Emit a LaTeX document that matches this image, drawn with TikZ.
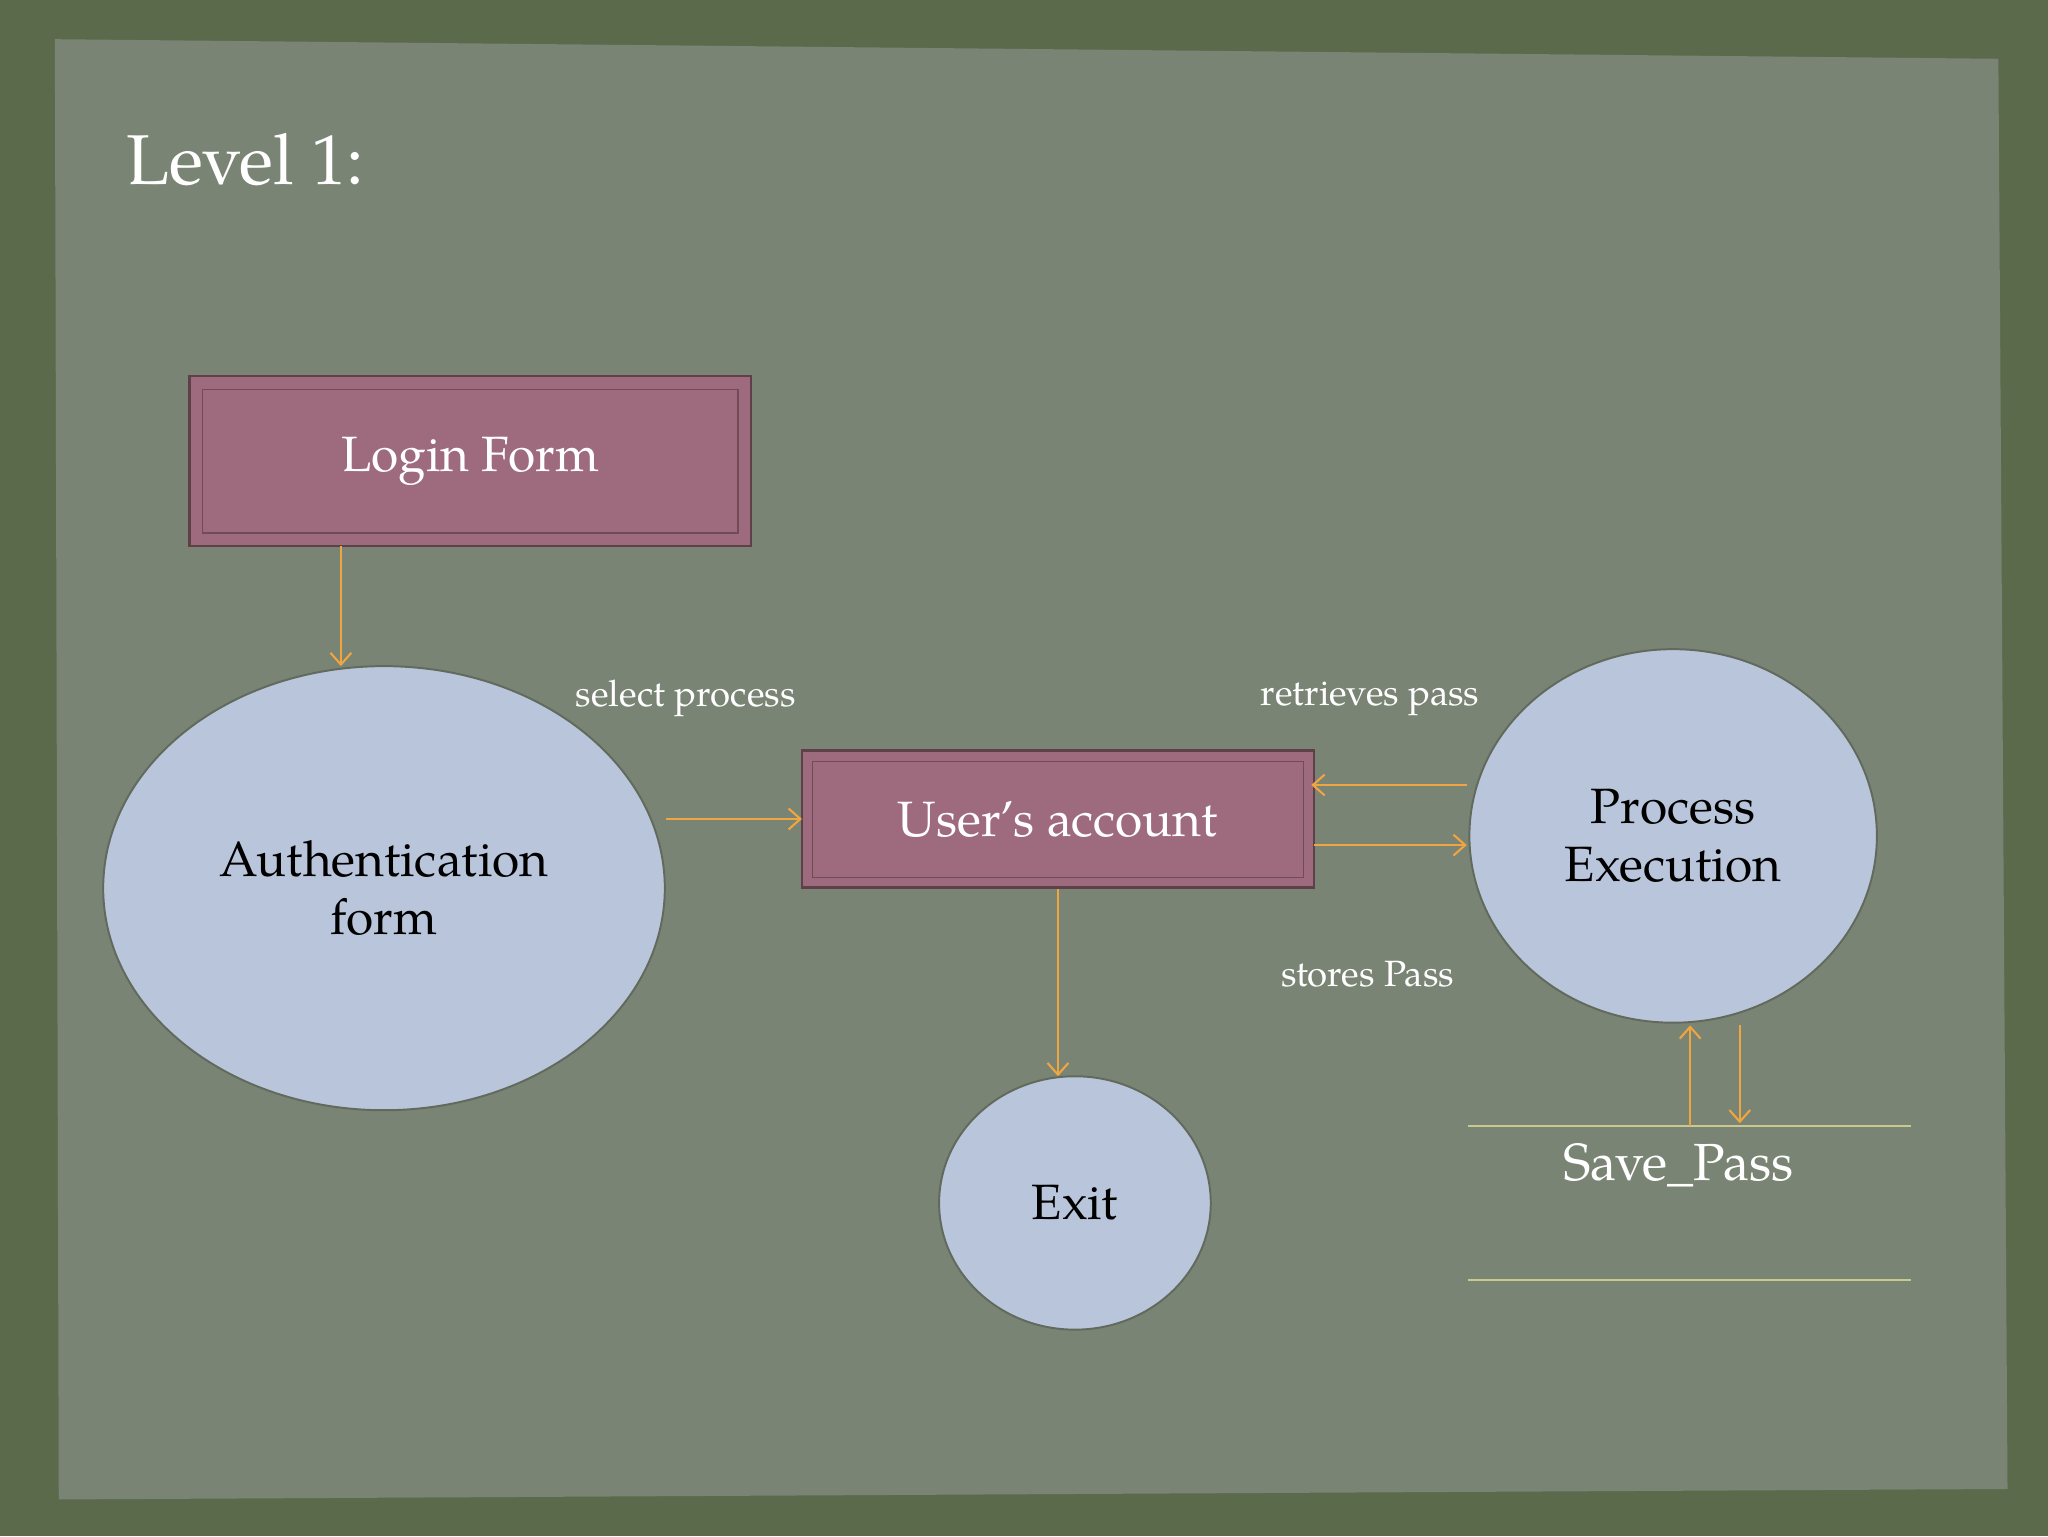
\documentclass[tikz,border=0pt]{standalone}
\usepackage{fontspec}
\setmainfont{TeX Gyre Pagella}
\usetikzlibrary{shapes.geometric,arrows.meta}
\definecolor{outer}{HTML}{5C6A4C}
\definecolor{paper}{HTML}{7A8474}
\definecolor{pinkbox}{HTML}{9E6A7E}
\definecolor{pinkedge}{HTML}{5E4048}
\definecolor{blueell}{HTML}{B9C5DA}
\definecolor{arr}{HTML}{EFA540}
\definecolor{sline}{HTML}{C8C890}
\tikzset{
 box/.style={draw=pinkedge,line width=2pt,fill=pinkbox,text=white,inner sep=0pt,font=\fontsize{38}{42}\selectfont},
 ell/.style={ellipse,draw=paper!80!black,line width=1.5pt,fill=blueell,inner sep=0pt,align=center,text=black,font=\fontsize{38}{44}\selectfont},
 lbl/.style={text=white,font=\fontsize{28}{32}\selectfont},
 flow/.style={draw=arr,line width=1.6pt,-{Straight Barb[length=9pt,width=16pt]}}
}
\begin{document}
\begin{tikzpicture}[x=1pt,y=-1pt]
\useasboundingbox (0,0) rectangle (1568,1176);
\fill[outer] (0,0) rectangle (1568,1176);
\fill[paper] (42,30) -- (1530,45) -- (1537,1140) -- (45,1148) -- cycle;
\node[anchor=west,text=white,font=\fontsize{54}{60}\selectfont] (title) at (93,122) {Level 1:};
\node[box,minimum width=430pt,minimum height=130pt] (login) at (360,353) {Login Form};
\draw[pinkedge!70!pinkbox,line width=1pt] (155,298) rectangle (565,408);
\node[ell,minimum width=430pt,minimum height=340pt] (auth) at (294,680) {Authentication\\form};
\node[box,minimum width=392pt,minimum height=105pt] (acct) at (810,627) {User’s account};
\draw[pinkedge!70!pinkbox,line width=1pt] (622,583) rectangle (998,672);
\node[ell,minimum width=312pt,minimum height=286pt] (proc) at (1281,640) {Process\\Execution};
\node[ell,minimum width=208pt,minimum height=194pt] (exit) at (823,921) {Exit};
\coordinate (s1) at (1124,862); \coordinate (s2) at (1463,862);
\coordinate (s3) at (1124,980); \coordinate (s4) at (1463,980);
\draw[sline,line width=1.2pt] (s1) -- (s2) (s3) -- (s4);
\node[text=white,font=\fontsize{40}{44}\selectfont] (save) at (1285,892) {Save\_Pass};
\coordinate (a1) at (261,418); \coordinate (a2) at (261,510);
\draw[flow] (a1) -- (a2);
\coordinate (b1) at (510,627); \coordinate (b2) at (614,627);
\draw[flow] (b1) -- (b2);
\coordinate (c1) at (1123,601); \coordinate (c2) at (1004,601);
\draw[flow] (c1) -- (c2);
\coordinate (d1) at (1006,647); \coordinate (d2) at (1123,647);
\draw[flow] (d1) -- (d2);
\coordinate (g2) at (810,824);
\draw[flow] (acct.south) -- (g2);
\coordinate (e1) at (1294,862); \coordinate (e2) at (1294,785);
\draw[flow] (e1) -- (e2);
\coordinate (f1) at (1332,785); \coordinate (f2) at (1332,860);
\draw[flow] (f1) -- (f2);
\node[lbl] (l1) at (525,535) {select process};
\node[lbl] (l2) at (1049,535) {retrieves pass};
\node[lbl] (l3) at (1047,746) {stores Pass};
\end{tikzpicture}
\end{document}
